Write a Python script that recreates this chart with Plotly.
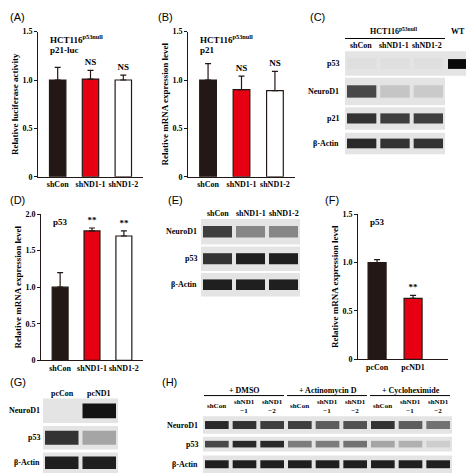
import plotly.graph_objects as go

W = 474.0
FONT = "Liberation Serif"
BLACK = "#231815"
RED = "#e60012"

# bar data
cats3 = ["shCon", "shND1-1", "shND1-2"]
a_vals = [1.0, 1.01, 1.0]
a_err = [0.13, 0.09, 0.05]
b_vals = [1.0, 0.9, 0.89]
b_err = [0.17, 0.14, 0.20]
d_vals = [1.0, 1.77, 1.7]
d_err = [0.2, 0.04, 0.07]
cats2 = ["pcCon", "pcND1"]
f_vals = [1.0, 0.63]
f_err = [0.03, 0.03]
a_marks = ["", "NS", "NS"]
b_marks = ["", "NS", "NS"]
d_marks = ["", "**", "**"]
f_marks = ["", "**"]

# blot band intensities (0..1), one list per row
c_rows = ["p53", "NeuroD1", "p21", "β-Actin"]
c_bands = [[0.02, 0.02, 0.02], [0.75, 0.15, 0.12], [0.85, 0.8, 0.8], [0.9, 0.85, 0.85]]
c_wt = [1.0, 0, 0, 0]
e_rows = ["NeuroD1", "p53", "β-Actin"]
e_bands = [[0.8, 0.45, 0.45], [0.85, 0.95, 0.95], [0.95, 0.95, 0.95]]
g_rows = ["NeuroD1", "p53", "β-Actin"]
g_bands = [[0.0, 1.0], [0.85, 0.3], [0.95, 0.95]]
h_rows = ["NeuroD1", "p53", "β-Actin"]
h_bands = [[0.9, 0.85, 0.8, 0.8, 0.65, 0.7, 0.85, 0.65, 0.55],
           [0.75, 0.9, 0.9, 0.5, 0.5, 0.55, 0.3, 0.25, 0.1],
           [0.95, 0.95, 0.95, 0.95, 0.95, 0.95, 0.95, 0.95, 0.95]]
h_groups = ["+ DMSO", "+ Actinomycin D", "+ Cycloheximide"]
h_lanes = ["shCon", "shND1<br>−1", "shND1<br>−2"]

fig = go.Figure()
shapes = []
ann = []


def px(x):
    return x / W


def py(y):
    return 1 - y / W


def text(x, y, s, size=8, xanchor="center", bold=True, fam=FONT):
    ann.append(dict(x=px(x), y=py(y), xref="paper", yref="paper", text=("<b>%s</b>" % s) if bold else s,
                    showarrow=False, xanchor=xanchor, yanchor="middle",
                    font=dict(family=fam, size=size, color="black")))


def bar_panel(n, cats, vals, err, marks, x0, x1, y0, y1, ymax, dtick, ylabel, title, xr):
    xa = "xaxis%d" % n
    ya = "yaxis%d" % n
    colors = [BLACK, RED, "white"][:len(cats)]
    fig.add_trace(go.Bar(x=cats, y=vals, marker=dict(color=colors, line=dict(color=BLACK, width=1.2)),
                         error_y=dict(type="data", array=err, symmetric=False, arrayminus=[0] * len(err),
                                      color=BLACK, thickness=1.2, width=3),
                         width=0.5, xaxis="x%d" % n, yaxis="y%d" % n, showlegend=False))
    mx = [c for c, m in zip(cats, marks) if m]
    my = [v + e + ymax * 0.05 for v, e, m in zip(vals, err, marks) if m]
    fig.add_trace(go.Scatter(x=mx, y=my, mode="text", text=["<b>%s</b>" % m for m in marks if m],
                             textfont=dict(family=FONT, size=9, color="black"), cliponaxis=False,
                             xaxis="x%d" % n, yaxis="y%d" % n, showlegend=False))
    fig.layout[xa] = dict(domain=[px(x0), px(x1)], anchor="y%d" % n, range=xr, showline=True,
                          linecolor=BLACK, ticks="", tickfont=dict(family=FONT, size=8, color="black"),
                          tickprefix="<b>", ticksuffix="</b>", type="category", tickangle=0)
    fig.layout[ya] = dict(domain=[py(y1), py(y0)], anchor="x%d" % n, range=[0, ymax],
                          tickvals=[v * dtick for v in range(int(ymax / dtick) + 1)],
                          ticktext=["<b>0</b>"] + ["<b>%.1f</b>" % (v * dtick) for v in range(1, int(ymax / dtick) + 1)],
                          showline=True, linecolor=BLACK, ticks="outside", ticklen=3,
                          tickcolor=BLACK, showgrid=False, zeroline=False,
                          tickfont=dict(family=FONT, size=8, color="black"),
                          title=dict(text="<b>%s</b>" % ylabel, font=dict(family=FONT, size=9, color="black"),
                                     standoff=2))
    for i, t in enumerate(title):
        text(x0 + 10, y0 + 8 + i * 11, t, size=9, xanchor="left")


bar_panel(1, cats3, a_vals, a_err, a_marks, 30, 135, 20, 168, 1.5, 0.5, "Relative luciferase activity",
          ["HCT116<sup>p53null</sup>", "p21-luc"], [-0.6, 2.6])
bar_panel(2, cats3, b_vals, b_err, b_marks, 180, 287, 20, 168, 1.5, 0.5, "Relative mRNA expression level",
          ["HCT116<sup>p53null</sup>", "p21"], [-0.6, 2.6])
bar_panel(3, cats3, d_vals, d_err, d_marks, 33, 135, 206, 355, 2.0, 0.5, "Relative mRNA expression level",
          ["p53"], [-0.6, 2.6])
bar_panel(4, cats2, f_vals, f_err, f_marks, 350, 440, 206, 354, 1.5, 0.5, "Relative mRNA expression level",
          ["p53"], [-0.53, 1.97])


def blot(x0, x1, rows, bands, y_rows, label_x, band_h=0.45):
    for r, (ya, yb) in enumerate(y_rows):
        shapes.append(dict(type="rect", xref="paper", yref="paper", x0=px(x0), x1=px(x1), y0=py(yb), y1=py(ya),
                           fillcolor="#e4e4e4", line=dict(width=0), layer="below"))
        n = len(bands[r])
        lw = (x1 - x0) / n
        ym = (ya + yb) / 2
        hh = (yb - ya) * band_h / 2
        for i, v in enumerate(bands[r]):
            if v <= 0:
                continue
            shapes.append(dict(type="rect", xref="paper", yref="paper", x0=px(x0 + i * lw + 2),
                               x1=px(x0 + (i + 1) * lw - 2), y0=py(ym + hh), y1=py(ym - hh),
                               fillcolor="rgba(20,20,20,%.2f)" % v, line=dict(width=0)))
        text(label_x, ym, rows[r], size=8, xanchor="right")


# (C)
blot(337, 437, c_rows, c_bands, [(40, 65), (67, 95), (97, 120), (123, 145)], 333)
shapes.append(dict(type="rect", xref="paper", yref="paper", x0=px(437), x1=px(468), y0=py(65), y1=py(40),
                   fillcolor="#e4e4e4", line=dict(width=0), layer="below"))
shapes.append(dict(type="rect", xref="paper", yref="paper", x0=px(440), x1=px(465), y0=py(58), y1=py(48),
                   fillcolor="rgba(10,10,10,%.2f)" % c_wt[0], line=dict(width=0)))
text(385, 19, "HCT116<sup>p53null</sup>", size=8)
shapes.append(dict(type="line", xref="paper", yref="paper", x0=px(337), x1=px(437), y0=py(27), y1=py(27),
                   line=dict(color="black", width=1)))
for i, c in enumerate(cats3):
    text(353 + i * 33, 34, c, size=8)
text(450, 20, "WT", size=8)

# (E)
blot(193, 292, e_rows, e_bands, [(211, 237), (239, 264), (266, 290)], 191)
for i, c in enumerate(cats3):
    text(210 + i * 33, 205, c, size=8)

# (G)
blot(35, 110, g_rows, g_bands, [(394, 419), (422, 446), (449, 470)], 34, band_h=0.6)
for i, c in enumerate(cats2):
    text(54 + i * 37, 389, c, size=8)

# (H)
blot(195, 444, h_rows, h_bands, [(412, 430), (433, 448), (452, 470)], 192)
gw = (444 - 195) / 3
for g, name in enumerate(h_groups):
    gx = 195 + g * gw
    text(gx + gw / 2, 386, name, size=8)
    shapes.append(dict(type="line", xref="paper", yref="paper", x0=px(gx + 1), x1=px(gx + gw - 2),
                       y0=py(391), y1=py(391), line=dict(color="black", width=1)))
    for i, c in enumerate(h_lanes):
        text(gx + gw / 6 + i * gw / 3, 402, c, size=7)

# panel letters
for s, x, y in [("(A)", 0, 5), ("(B)", 148, 5), ("(C)", 300, 5), ("(D)", 0, 192), ("(E)", 158, 192),
                ("(F)", 315, 192), ("(G)", 0, 377), ("(H)", 152, 377)]:
    text(x, y, s, size=11, xanchor="left", bold=False, fam="Liberation Sans")

fig.update_layout(width=474, height=474, margin=dict(l=0, r=0, t=0, b=0), plot_bgcolor="white",
                  paper_bgcolor="white", shapes=shapes, annotations=ann)
fig.write_html("out.html")
